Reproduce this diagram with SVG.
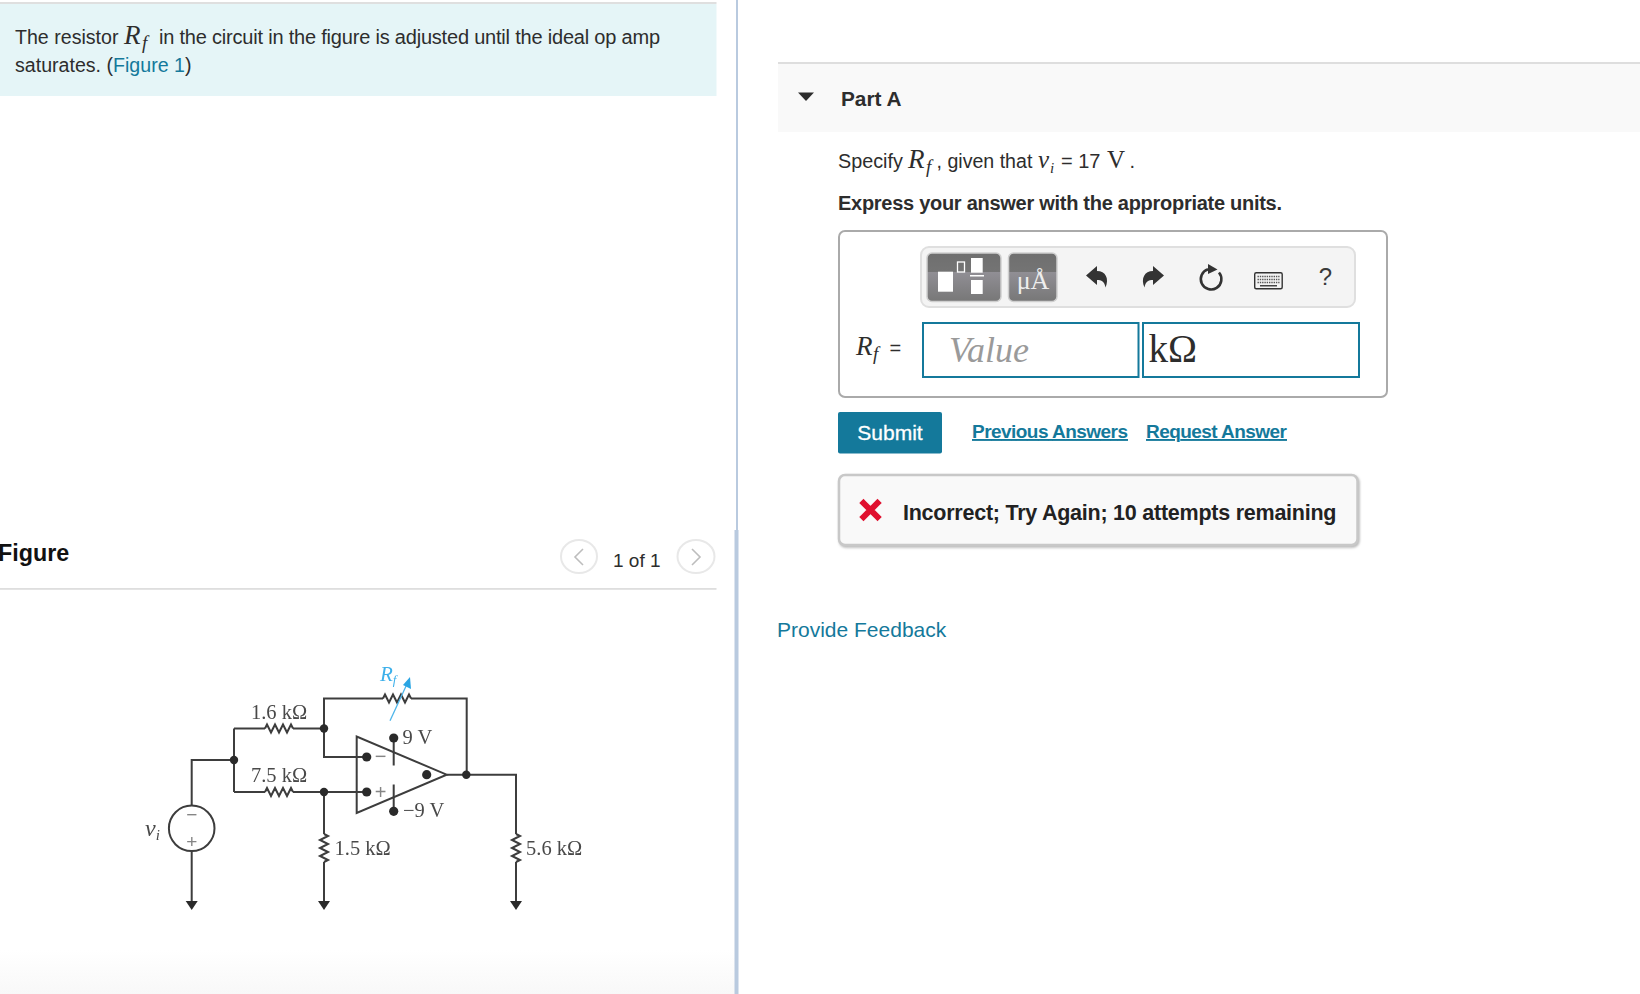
<svg xmlns="http://www.w3.org/2000/svg" width="1640" height="994" viewBox="0 0 1640 994">
<style>
.s{font-family:"Liberation Sans",Arial,sans-serif;fill:#2d2d2d}
.b{font-weight:700}
.m{font-family:"Liberation Serif","Times New Roman",serif;font-style:italic;fill:#2d2d2d}
.u{font-family:"Liberation Serif","Times New Roman",serif}
.w{fill:none;stroke:#3c3c3c;stroke-width:2}
.c{font-family:"Liberation Serif","Times New Roman",serif;font-size:20.5px;fill:#4a4a4a}
.d{fill:#2a2a2a}
.g{fill:#858585;font-family:"Liberation Sans",Arial,sans-serif}
.l{fill:#14799b}
</style>
<defs>
<linearGradient id="btn" x1="0" y1="0" x2="0" y2="1">
<stop offset="0" stop-color="#6f6f6f"/><stop offset=".39" stop-color="#747474"/><stop offset=".39" stop-color="#918f95"/><stop offset="1" stop-color="#777"/>
</linearGradient>
<linearGradient id="fade" x1="0" y1="0" x2="0" y2="1"><stop offset="0" stop-color="#fff"/><stop offset="1" stop-color="#f8f8f8"/></linearGradient>
<filter id="soft" x="-5%" y="-5%" width="110%" height="110%"><feGaussianBlur stdDeviation="0.6"/></filter>
<filter id="sh" x="-3%" y="-10%" width="106%" height="125%"><feDropShadow dx="1" dy="1.5" stdDeviation="1" flood-color="#999" flood-opacity=".7"/></filter>
<path id="zig" d="M0,0l2,-4 4,8 4,-8 4,8 4,-8 4,8 4,-8 2,4"/>
<path id="gnd" d="M-6,0H6L0,9Z"/>
<path id="undo" d="M1086,275.500L1097,266V271C1105.500,271 1109.500,278.500 1105.500,287.500C1104.500,281.500 1101.500,280 1097,280V285Z" fill="#333"/>
</defs>
<rect width="1640" height="994" fill="#fff"/>
<g id="left-panel">
<rect x="0" y="950" width="735" height="44" fill="url(#fade)"/>
<rect x="0" y="2" width="716.500" height="2" fill="#dfdfdf"/>
<rect x="0" y="4" width="716.500" height="92" fill="#e5f5f7"/>
<text class="s" x="15" y="44" font-size="19.600">The resistor</text>
<text class="m" x="124" y="44" font-size="27">R</text>
<text class="m" x="142" y="49" font-size="19">f</text>
<text class="s" x="159" y="44" font-size="20" textLength="501">in the circuit in the figure is adjusted until the ideal op amp</text>
<text class="s" x="15" y="72" font-size="19.600">saturates. (<tspan class="l">Figure 1</tspan>)</text>
<text class="s b" x="-2" y="561" font-size="23.300" style="fill:#111">Figure</text>
<ellipse cx="579" cy="556.500" rx="18" ry="16.500" fill="#fff" stroke="#e8e8e8" stroke-width="2"/>
<path d="M583,549L575,557L583,565" fill="none" stroke="#bdbdbd" stroke-width="1.600"/>
<text class="s" x="613" y="567" font-size="19">1 of 1</text>
<ellipse cx="696" cy="556.500" rx="18.500" ry="16.500" fill="#fff" stroke="#e8e8e8" stroke-width="2"/>
<path d="M692,549L700,557L692,565" fill="none" stroke="#bdbdbd" stroke-width="1.600"/>
<rect x="0" y="588" width="716.500" height="1.800" fill="#dedede"/>
</g>
<rect id="divider-top" x="736" y="0" width="2" height="530" fill="#b9cadf"/>
<rect id="divider" x="734.500" y="530" width="4" height="464" fill="#b9cadf"/>
<g id="circuit" filter="url(#soft)" transform="translate(0,-1)">
<g id="connectors" class="w">
<path d="M191.700,806.500V761H234"/>
<path d="M234,729.500V793"/>
<path d="M234,729.500H265M293,729.500H324"/>
<path d="M234,793H265M293,793H366.700"/>
<path d="M324,758V699.500H383M411,699.500H466.700V775.700"/>
<path d="M324,729.500V758H366.700"/>
<path d="M446.700,775.700H516V835"/>
<path d="M324,793V835M324,863V903"/>
<path d="M516,863V903"/>
<path d="M191.700,852V903"/>
<path d="M393.700,739V766.500M393.700,785.500V812"/>
</g>
<g id="opamp"><path class="w" d="M356.700,737.500V814L446.700,775.700Z"/>
<circle class="d" cx="366.700" cy="758" r="4.600"/><circle class="d" cx="366.700" cy="793" r="4.600"/><circle class="d" cx="426.700" cy="775.700" r="4.600"/>
<circle class="d" cx="393.700" cy="739" r="4.600"/><circle class="d" cx="393.700" cy="812.300" r="4.600"/>
<text class="g" x="380.700" y="764" font-size="20" text-anchor="middle">−</text>
<text class="g" x="380.700" y="800" font-size="20" text-anchor="middle">+</text>
<text class="c" x="402.500" y="745.200">9 V</text>
<text class="c" x="403" y="818">−9 V</text></g>
<g id="r-in1"><use href="#zig" class="w" x="265" y="729.500"/><text class="c" x="279" y="720" text-anchor="middle">1.6 kΩ</text></g>
<g id="r-in2"><use href="#zig" class="w" x="265" y="793"/><text class="c" x="279" y="783" text-anchor="middle">7.5 kΩ</text></g>
<g id="r-f"><use href="#zig" class="w" x="383" y="699.500"/>
<path d="M390,721.700L407,685" fill="none" stroke="#4db5ea" stroke-width="1.300"/><path d="M410,678L411,690L403,686Z" fill="#2aa5e3"/>
<text x="380" y="682" font-family="Liberation Serif,serif" font-style="italic" font-size="21" fill="#3db0ea">R<tspan font-size="13" dy="3">f</tspan></text></g>
<g id="r-g1"><use href="#zig" class="w" transform="translate(324,835) rotate(90)"/><text class="c" x="334.500" y="855.500">1.5 kΩ</text></g>
<g id="r-l"><use href="#zig" class="w" transform="translate(516,835) rotate(90)"/><text class="c" x="526" y="855.500">5.6 kΩ</text></g>
<g id="source"><circle class="w" cx="191.700" cy="829.300" r="22.800"/>
<text class="g" x="191.700" y="822" font-size="19" text-anchor="middle">−</text>
<text class="g" x="191.700" y="848.500" font-size="19" text-anchor="middle">+</text>
<text class="m" x="145" y="836.500" font-size="24" style="fill:#4a4a4a">v<tspan font-size="15" dy="4">i</tspan></text></g>
<g id="nodes"><circle class="d" cx="234" cy="761" r="4.200"/><circle class="d" cx="324" cy="729.500" r="4.200"/><circle class="d" cx="324" cy="793" r="4.200"/><circle class="d" cx="466.300" cy="775.700" r="4.200"/></g>
<g id="grounds" class="d"><use href="#gnd" x="191.700" y="902"/><use href="#gnd" x="324" y="902"/><use href="#gnd" x="516" y="902"/></g>
</g>
<g id="part-a">
<rect x="778" y="62" width="862" height="2" fill="#dedede"/>
<rect x="778" y="64" width="862" height="68" fill="#f9f9f9"/>
<path d="M798,92.500H814L806,101Z" fill="#2d2d2d"/>
<text class="s b" x="841" y="105.500" font-size="20.800">Part A</text>
<text class="s" x="838" y="168" font-size="19.800">Specify</text>
<text class="m" x="908" y="168" font-size="27">R</text>
<text class="m" x="926" y="173" font-size="19">f</text>
<text class="s" x="936.500" y="168" font-size="19.600">, given that</text>
<text class="m" x="1038" y="168" font-size="25">v</text>
<text class="m" x="1050" y="173" font-size="15">i</text>
<text class="s" x="1061" y="168" font-size="20">= 17</text>
<text class="u" x="1107" y="168" font-size="25" fill="#2d2d2d">V</text>
<text class="s" x="1129.500" y="168" font-size="20">.</text>
<text class="s b" x="838" y="209.500" font-size="20" textLength="444">Express your answer with the appropriate units.</text>
</g>
<g id="answer-box">
<rect x="839" y="231" width="548" height="166" rx="6" fill="#fff" stroke="#aaa" stroke-width="2"/>
<g id="toolbar">
<rect x="921" y="247" width="434" height="60" rx="8" fill="#f4f4f4" stroke="#dfdfdf" stroke-width="2"/>
<rect x="927" y="253" width="74" height="48.500" rx="5" fill="url(#btn)" stroke="#cfcfcf" stroke-width="1.500"/>
<rect x="1008.500" y="253" width="48.500" height="48.500" rx="5" fill="url(#btn)" stroke="#cfcfcf" stroke-width="1.500"/>
<rect x="938" y="271.700" width="15" height="20" fill="#fff"/>
<rect x="957.500" y="262" width="7" height="10" fill="none" stroke="#fff" stroke-width="1.300"/>
<rect x="971" y="258" width="11.700" height="14.700" fill="#fff"/>
<rect x="970" y="275" width="14" height="1.500" fill="#fff"/>
<rect x="971" y="280" width="11.700" height="14" fill="#fff"/>
<text class="u" x="1033" y="289" font-size="26" text-anchor="middle" fill="#eee">μÅ</text>
<use href="#undo"/>
<use href="#undo" transform="translate(2250,0) scale(-1,1)"/>
<path d="M1208,269.300A10.300,10.300 0 1 0 1219,272.500" fill="none" stroke="#333" stroke-width="2.600"/>
<path d="M1208,264L1217.500,269.500L1208,274Z" fill="#333"/>
<rect x="1254.700" y="272.800" width="27.500" height="16" rx="1.500" fill="#f4f4f4" stroke="#333" stroke-width="1.400"/>
<path d="M1257.500,276.500H1279.500M1257.500,279.500H1279.500M1257.500,282.500H1279.500" fill="none" stroke="#555" stroke-width="1.600" stroke-dasharray="1.400 .9"/>
<rect x="1260" y="285" width="17" height="1.500" fill="#444"/>
<text class="s" x="1325.500" y="285" font-size="24" text-anchor="middle" style="fill:#3a3a3a">?</text>
</g>
<g id="value-row">
<text class="m" x="856" y="355" font-size="27">R</text>
<text class="m" x="873" y="360" font-size="19">f</text>
<text class="s" x="889.500" y="355" font-size="20">=</text>
<rect x="923" y="323" width="215.500" height="54" fill="#fff" stroke="#14799b" stroke-width="2"/>
<text x="949" y="361.500" font-family="Liberation Serif,serif" font-style="italic" font-size="36" fill="#9a9a9a">Value</text>
<rect x="1143" y="323" width="216" height="54" fill="#fff" stroke="#14799b" stroke-width="2"/>
<text class="u" x="1148.500" y="361.500" font-size="39" fill="#2d2d2d">kΩ</text>
</g>
</g>
<g id="actions">
<rect x="838" y="412" width="104" height="41.500" rx="2" fill="#14799b"/>
<text x="890" y="439.500" font-family="Liberation Sans,Arial,sans-serif" font-size="21" text-anchor="middle" fill="#fff" stroke="#fff" stroke-width=".3">Submit</text>
<text class="s b" x="972" y="438" font-size="19" textLength="156" text-decoration="underline" style="fill:#14799b">Previous Answers</text>
<text class="s b" x="1146" y="438" font-size="19" textLength="141" text-decoration="underline" style="fill:#14799b">Request Answer</text>
</g>
<g id="alert">
<rect x="839" y="475" width="518.500" height="70" rx="6" fill="#f9f9f9" stroke="#c8c8c8" stroke-width="2.500" filter="url(#sh)"/>
<path d="M863.500,503L870.500,510M877.500,503L870.500,510M863.500,517L870.500,510M877.500,517L870.500,510" fill="none" stroke="#e0102f" stroke-width="6" stroke-linecap="square"/>
<text class="s b" x="903" y="519.500" font-size="21.500" textLength="433.500" style="fill:#222">Incorrect; Try Again; 10 attempts remaining</text>
</g>
<text id="feedback" class="s" x="777" y="637" font-size="21" style="fill:#14799b">Provide Feedback</text>
</svg>
